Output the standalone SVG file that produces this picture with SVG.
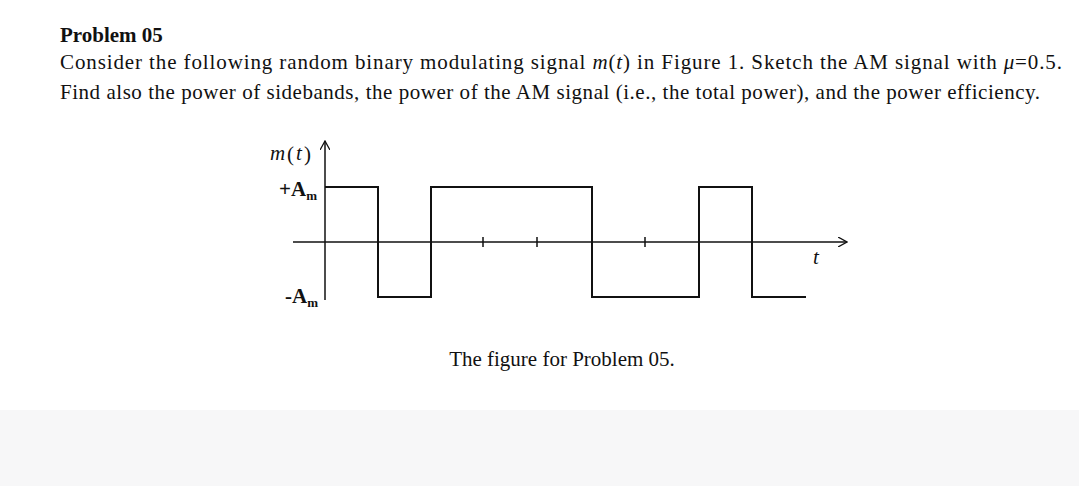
<svg xmlns="http://www.w3.org/2000/svg" width="1079" height="486" viewBox="0 0 1079 486">
<style>
.t{font-family:"Liberation Serif",serif;font-size:21px;fill:#111}
.w{fill:none;stroke:#111;stroke-width:2}
.a{fill:none;stroke:#111;stroke-width:1.5}
</style>
<defs><marker id="ar" viewBox="0 0 10 10" refX="9" refY="5" markerWidth="10" markerHeight="10" orient="auto" markerUnits="userSpaceOnUse"><path d="M0,0 L9,5 L0,10" fill="none" stroke="#111" stroke-width="1.3"/></marker></defs>
<rect width="1079" height="486" fill="#fff"/>
<rect y="410" width="1079" height="76" fill="#f7f7f8"/>
<text class="t" x="60" y="42" font-weight="bold" font-size="19">Problem 05</text>
<text class="t" x="60" y="69" font-size="22" textLength="1002" lengthAdjust="spacing">Consider the following random binary modulating signal <tspan font-style="italic">m</tspan>(<tspan font-style="italic">t</tspan>) in Figure 1. Sketch the AM signal with <tspan font-style="italic">μ</tspan>=0.5.</text>
<text class="t" x="60" y="99" font-size="22" textLength="980" lengthAdjust="spacing">Find also the power of sidebands, the power of the AM signal (i.e., the total power), and the power efficiency.</text>
<g id="axes">
<line class="a" x1="325" y1="300" x2="325" y2="141" marker-end="url(#ar)"/>
<line class="a" x1="293" y1="242" x2="847" y2="242" marker-end="url(#ar)"/>
<path class="a" d="M483,237V247M537,237V247M645,237V247"/>
</g>
<g id="signal"><path class="w" d="M325,187H378V297H431V187H592V297H699V187H752V297H806"/></g>
<g id="labels">
<text class="t" x="270" y="160" font-style="italic">m</text><text class="t" x="287" y="161" font-size="24">(</text><text class="t" x="296" y="160" font-style="italic">t</text><text class="t" x="304" y="161" font-size="24">)</text>
<text class="t" x="279" y="196" font-weight="bold">+A<tspan font-size="13" dy="4">m</tspan></text>
<text class="t" x="285" y="303" font-weight="bold">-A<tspan font-size="13" dy="4">m</tspan></text>
<text class="t" x="813" y="264" font-style="italic" font-size="16">t</text>
<text class="t" x="562" y="366" text-anchor="middle" font-size="22">The figure for Problem 05.</text>
</g>
</svg>
